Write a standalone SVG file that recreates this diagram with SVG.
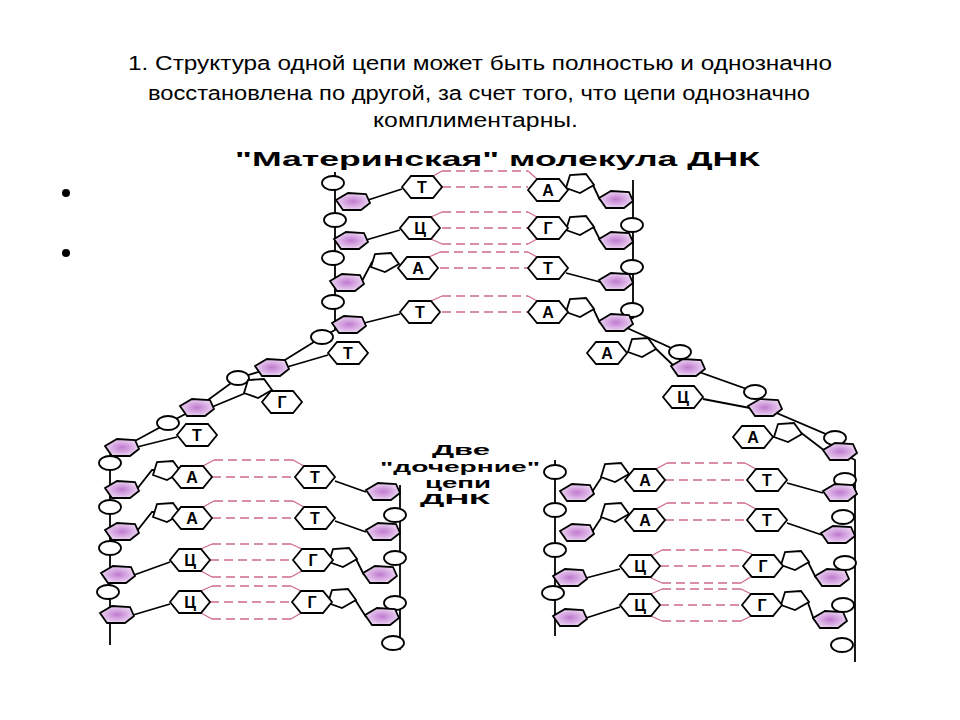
<svg xmlns="http://www.w3.org/2000/svg" xmlns:xlink="http://www.w3.org/1999/xlink" width="960" height="720" viewBox="0 0 960 720">
<style>
.t{font-family:"Liberation Sans",Arial,sans-serif;fill:#000}
.title{font-size:20px}
.b{font-size:16px;font-weight:bold;text-anchor:middle;dominant-baseline:central}
.ln{stroke:#000;stroke-width:1.8;fill:none}
.d{stroke:#d06a8a;stroke-width:1.3;stroke-dasharray:9 5;fill:none}
.s{stroke:#d06a8a;stroke-width:1.3;fill:none}
</style>
<defs>
<radialGradient id="pg"><stop offset="0" stop-color="#c07ad0"/><stop offset="1" stop-color="#ecd4f2"/></radialGradient>
<polygon id="hex" points="-20,0 -11,-11 11,-11 20,0 11,11 -11,11" fill="#fff" stroke="#000" stroke-width="1.8"/>
<polygon id="sug" points="-17,-2 -5,-9 13,-8 17,1 8,8 -10,8" fill="url(#pg)" stroke="#000" stroke-width="1.8"/>
<ellipse id="ph" rx="11" ry="7" fill="#fff" stroke="#000" stroke-width="1.8"/>
<polygon id="pen" points="-14,5 -10,-8 6,-9 14,2 0,10" fill="#fff" stroke="#000" stroke-width="1.8"/>
</defs>
<rect width="960" height="720" fill="#fff"/>
<g id="title" class="t title">
<text x="128" y="70" textLength="704" lengthAdjust="spacingAndGlyphs">1.  Структура одной цепи может быть полностью и однозначно</text>
<text x="148" y="100" textLength="662" lengthAdjust="spacingAndGlyphs">восстановлена по другой, за счет того, что цепи однозначно</text>
<text x="373" y="127" textLength="205" lengthAdjust="spacingAndGlyphs">комплиментарны.</text>
</g>
<g id="bullets"><circle cx="66" cy="193" r="4"/><circle cx="66" cy="253" r="4"/></g>
<text class="t" x="235" y="166" font-size="20" font-weight="bold" textLength="525" lengthAdjust="spacingAndGlyphs">"Материнская" молекула ДНК</text>
<g id="label" class="t" font-size="15" font-weight="bold">
<text x="432" y="455" textLength="58" lengthAdjust="spacingAndGlyphs">Две</text>
<text x="380" y="472" textLength="160" lengthAdjust="spacingAndGlyphs">"дочерние"</text>
<text x="425" y="488" textLength="66" lengthAdjust="spacingAndGlyphs">цепи</text>
<text x="420" y="504" textLength="70" lengthAdjust="spacingAndGlyphs">ДНК</text>
</g>
<g id="connectors">
<polyline class="ln" points="335,172 335,330 322,337 272,368 238,378 197,408 168,423 122,448 110,455 110,645"/>
<polyline class="ln" points="633,180 633,318 616,323 680,352 688,368 755,392 765,408 835,438 840,452 855,460 855,662"/>
<line class="ln" x1="400" y1="485" x2="400" y2="650"/>
<line class="ln" x1="555" y1="460" x2="555" y2="636"/>
<polyline class="ln" points="368,200 402,189"/>
<polyline class="ln" points="366,240 400,230"/>
<polyline class="ln" points="362,281 372,262 388,260"/>
<polyline class="ln" points="364,323 400,314"/>
<polyline class="ln" points="592,183 600,200"/>
<polyline class="ln" points="592,224 600,240"/>
<polyline class="ln" points="566,273 600,282"/>
<polyline class="ln" points="592,306 600,323"/>
<polyline class="ln" points="287,367 328,355"/>
<polyline class="ln" points="212,407 248,392"/>
<polyline class="ln" points="137,447 177,437"/>
<polyline class="ln" points="654,347 675,367"/>
<polyline class="ln" points="703,399 750,408"/>
<polyline class="ln" points="800,432 825,451"/>
<polyline class="ln" points="137,489 152,470 156,470"/>
<polyline class="ln" points="137,531 152,512 156,512"/>
<polyline class="ln" points="134,575 170,562"/>
<polyline class="ln" points="133,615 170,604"/>
<polyline class="ln" points="335,481 366,492"/>
<polyline class="ln" points="335,521 366,532"/>
<polyline class="ln" points="355,557 364,575"/>
<polyline class="ln" points="354,598 366,617"/>
<polyline class="ln" points="592,492 605,472"/>
<polyline class="ln" points="592,532 605,512"/>
<polyline class="ln" points="586,578 620,569"/>
<polyline class="ln" points="586,618 620,607"/>
<polyline class="ln" points="787,483 823,493"/>
<polyline class="ln" points="787,523 822,535"/>
<polyline class="ln" points="807,560 816,578"/>
<polyline class="ln" points="807,600 814,620"/>
</g>
<g id="hbonds">
<path class="s" d="M433,176 442,171 M528,171 537,179"/><path class="d" d="M442,171H528 M442,187H528"/>
<path class="s" d="M431,217 442,212 M528,212 537,217 M431,239 442,244 M528,244 537,239"/><path class="d" d="M442,212H528 M442,228H528 M442,244H528"/>
<path class="s" d="M429,257 440,252 M528,252 537,257"/><path class="d" d="M440,252H528 M440,268H528"/>
<path class="s" d="M431,301 442,296 M528,296 537,301"/><path class="d" d="M442,296H528 M442,312H528"/>
<path class="s" d="M203,466 214,460 M293,460 304,466"/><path class="d" d="M214,460H293 M212,477H295"/>
<path class="s" d="M203,507 214,501 M293,501 304,507"/><path class="d" d="M214,501H293 M212,518H295"/>
<path class="s" d="M201,549 212,544 M291,544 302,549 M201,571 212,577 M291,577 302,571"/><path class="d" d="M212,544H291 M210,560H293 M212,577H291"/>
<path class="s" d="M201,591 212,586 M291,586 301,591 M201,613 212,619 M291,619 301,613"/><path class="d" d="M212,586H291 M210,602H292 M212,619H291"/>
<path class="s" d="M656,469 667,463 M745,463 756,469"/><path class="d" d="M667,463H745 M665,480H747"/>
<path class="s" d="M656,509 667,503 M745,503 756,509"/><path class="d" d="M667,503H745 M665,520H747"/>
<path class="s" d="M651,556 662,550 M741,550 752,554 M651,578 662,583 M741,583 752,576"/><path class="d" d="M662,550H741 M660,566H743 M662,583H741"/>
<path class="s" d="M651,594 662,589 M741,589 751,594 M651,616 662,621 M741,621 751,616"/><path class="d" d="M662,589H741 M660,605H742 M662,621H741"/>
</g>
<g id="phosphates">
<use href="#ph" x="333" y="183"/><use href="#ph" x="335" y="220"/><use href="#ph" x="333" y="258"/><use href="#ph" x="333" y="302"/>
<use href="#ph" x="632" y="225"/><use href="#ph" x="632" y="267"/><use href="#ph" x="632" y="310"/>
<use href="#ph" x="322" y="337"/><use href="#ph" x="238" y="378"/><use href="#ph" x="168" y="423"/>
<use href="#ph" x="680" y="352"/><use href="#ph" x="755" y="392"/><use href="#ph" x="835" y="438"/>
<use href="#ph" x="110" y="463"/><use href="#ph" x="110" y="507"/><use href="#ph" x="110" y="548"/><use href="#ph" x="108" y="592"/>
<use href="#ph" x="395" y="515"/><use href="#ph" x="395" y="558"/><use href="#ph" x="395" y="603"/><use href="#ph" x="393" y="643"/>
<use href="#ph" x="555" y="472"/><use href="#ph" x="555" y="510"/><use href="#ph" x="555" y="550"/><use href="#ph" x="553" y="593"/>
<use href="#ph" x="845" y="480"/><use href="#ph" x="843" y="517"/><use href="#ph" x="845" y="563"/><use href="#ph" x="843" y="605"/><use href="#ph" x="842" y="645"/>
</g>
<g id="sugars">
<use href="#sug" x="353" y="202"/><use href="#sug" x="351" y="241"/><use href="#sug" x="347" y="283"/><use href="#sug" x="349" y="325"/>
<use href="#sug" x="616" y="200"/><use href="#sug" x="616" y="241"/><use href="#sug" x="616" y="282"/><use href="#sug" x="616" y="323"/>
<use href="#sug" x="272" y="368"/><use href="#sug" x="197" y="408"/><use href="#sug" x="122" y="448"/>
<use href="#sug" x="688" y="368"/><use href="#sug" x="765" y="408"/><use href="#sug" x="840" y="452"/>
<use href="#sug" x="122" y="490"/><use href="#sug" x="122" y="532"/><use href="#sug" x="118" y="575"/><use href="#sug" x="117" y="615"/>
<use href="#sug" x="383" y="492"/><use href="#sug" x="383" y="532"/><use href="#sug" x="380" y="575"/><use href="#sug" x="382" y="617"/>
<use href="#sug" x="577" y="493"/><use href="#sug" x="577" y="533"/><use href="#sug" x="570" y="578"/><use href="#sug" x="570" y="618"/>
<use href="#sug" x="840" y="493"/><use href="#sug" x="838" y="535"/><use href="#sug" x="832" y="578"/><use href="#sug" x="830" y="620"/>
</g>
<g id="rings">
<use href="#pen" x="580" y="183"/><use href="#pen" x="580" y="225"/><use href="#pen" x="385" y="262"/><use href="#pen" x="580" y="307"/>
<use href="#pen" x="258" y="388"/><use href="#pen" x="642" y="347"/><use href="#pen" x="788" y="432"/>
<use href="#pen" x="167" y="470"/><use href="#pen" x="167" y="512"/><use href="#pen" x="343" y="557"/><use href="#pen" x="342" y="598"/>
<use href="#pen" x="615" y="472"/><use href="#pen" x="615" y="512"/><use href="#pen" x="795" y="560"/><use href="#pen" x="795" y="600"/>
</g>
<g id="bases">
<g id="b1"><use href="#hex" x="422" y="187"/><text class="t b" x="422" y="187">Т</text></g>
<g id="b2"><use href="#hex" x="420" y="228"/><text class="t b" x="420" y="228">Ц</text></g>
<g id="b3"><use href="#hex" x="418" y="268"/><text class="t b" x="418" y="268">А</text></g>
<g id="b4"><use href="#hex" x="420" y="312"/><text class="t b" x="420" y="312">Т</text></g>
<g id="b5"><use href="#hex" x="548" y="190"/><text class="t b" x="548" y="190">А</text></g>
<g id="b6"><use href="#hex" x="548" y="228"/><text class="t b" x="548" y="228">Г</text></g>
<g id="b7"><use href="#hex" x="548" y="268"/><text class="t b" x="548" y="268">Т</text></g>
<g id="b8"><use href="#hex" x="548" y="312"/><text class="t b" x="548" y="312">А</text></g>
<g id="b9"><use href="#hex" x="348" y="353"/><text class="t b" x="348" y="353">Т</text></g>
<g id="b10"><use href="#hex" x="282" y="402"/><text class="t b" x="282" y="402">Г</text></g>
<g id="b11"><use href="#hex" x="197" y="435"/><text class="t b" x="197" y="435">Т</text></g>
<g id="b12"><use href="#hex" x="607" y="353"/><text class="t b" x="607" y="353">А</text></g>
<g id="b13"><use href="#hex" x="683" y="397"/><text class="t b" x="683" y="397">Ц</text></g>
<g id="b14"><use href="#hex" x="753" y="437"/><text class="t b" x="753" y="437">А</text></g>
<g id="b15"><use href="#hex" x="192" y="477"/><text class="t b" x="192" y="477">А</text></g>
<g id="b16"><use href="#hex" x="192" y="518"/><text class="t b" x="192" y="518">А</text></g>
<g id="b17"><use href="#hex" x="190" y="560"/><text class="t b" x="190" y="560">Ц</text></g>
<g id="b18"><use href="#hex" x="190" y="602"/><text class="t b" x="190" y="602">Ц</text></g>
<g id="b19"><use href="#hex" x="315" y="477"/><text class="t b" x="315" y="477">Т</text></g>
<g id="b20"><use href="#hex" x="315" y="518"/><text class="t b" x="315" y="518">Т</text></g>
<g id="b21"><use href="#hex" x="313" y="560"/><text class="t b" x="313" y="560">Г</text></g>
<g id="b22"><use href="#hex" x="312" y="602"/><text class="t b" x="312" y="602">Г</text></g>
<g id="b23"><use href="#hex" x="645" y="480"/><text class="t b" x="645" y="480">А</text></g>
<g id="b24"><use href="#hex" x="645" y="520"/><text class="t b" x="645" y="520">А</text></g>
<g id="b25"><use href="#hex" x="640" y="566"/><text class="t b" x="640" y="566">Ц</text></g>
<g id="b26"><use href="#hex" x="640" y="605"/><text class="t b" x="640" y="605">Ц</text></g>
<g id="b27"><use href="#hex" x="767" y="480"/><text class="t b" x="767" y="480">Т</text></g>
<g id="b28"><use href="#hex" x="767" y="520"/><text class="t b" x="767" y="520">Т</text></g>
<g id="b29"><use href="#hex" x="763" y="566"/><text class="t b" x="763" y="566">Г</text></g>
<g id="b30"><use href="#hex" x="762" y="605"/><text class="t b" x="762" y="605">Г</text></g>
</g>
</svg>
